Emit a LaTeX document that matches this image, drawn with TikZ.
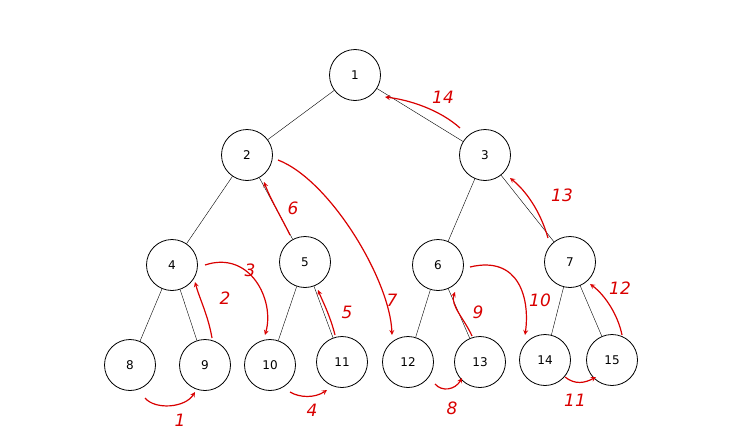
\documentclass[tikz,border=0pt]{standalone}
\usepackage{fontspec}
\setmainfont{DejaVu Sans}
\usepackage{tikz}
\usetikzlibrary{calc}

\begin{document}
\begin{tikzpicture}[x=1pt,y=-1pt,
    vtx/.style={draw,circle,thick,minimum size=51pt,inner sep=0pt,font=\fontsize{12}{12}\selectfont},
    edge/.style={thin},
    walk/.style={red!85!black,line width=1.2pt,->,>=stealth,rounded corners},
    ordnum/.style={red!85!black,font=\fontsize{17}{17}\selectfont\itshape}]
    \useasboundingbox (0,0) rectangle (736,447);

    \foreach \i/\x/\y in {1/355/75, 2/247/155, 3/485/155, 4/172/265, 5/305/262,
        6/438/265, 7/570/262, 8/130/365, 9/205/365, 10/270/365, 11/342/362,
        12/408/362, 13/480/362, 14/545/360, 15/612/360} {
        \node[vtx] (n\i) at (\x,\y) {\i};
    }

    \foreach \a/\b in {1/2, 1/3, 2/4, 2/5, 3/6, 3/7, 4/8, 4/9, 5/10, 5/11,
        6/12, 6/13, 7/14, 7/15} {
        \draw[edge] (n\a) -- (n\b);
    }

    % order of the walk
    \draw[walk] (145,398) .. controls (155,410) and (185,408) .. (195,392);
    \node[ordnum] (s1) at (180,420) {1};
    \draw[walk] (212,338) .. controls (208,315) and (200,300) .. (195,282);
    \node[ordnum] (s2) at (225,298) {2};
    \draw[walk] (205,265) .. controls (250,250) and (275,300) .. (265,335);
    \node[ordnum] (s3) at (250,270) {3};
    \draw[walk] (290,392) .. controls (300,398) and (315,398) .. (327,390);
    \node[ordnum] (s4) at (312,410) {4};
    \draw[walk] (335,335) .. controls (330,315) and (322,300) .. (318,290);
    \node[ordnum] (s5) at (347,312) {5};
    \draw[walk] (290,235) .. controls (280,215) and (270,198) .. (264,182);
    \node[ordnum] (s6) at (293,208) {6};
    \draw[walk] (278,160) .. controls (330,180) and (390,280) .. (392,335);
    \node[ordnum] (s7) at (392,300) {7};
    \draw[walk] (435,384) .. controls (442,392) and (455,390) .. (462,378);
    \node[ordnum] (s8) at (452,408) {8};
    \draw[walk] (472,336) .. controls (465,320) and (450,305) .. (455,292);
    \node[ordnum] (s9) at (478,312) {9};
    \draw[walk] (470,267) .. controls (520,255) and (530,300) .. (525,335);
    \node[ordnum] (s10) at (540,300) {10};
    \draw[walk] (565,377) .. controls (575,385) and (585,383) .. (596,377);
    \node[ordnum] (s11) at (575,400) {11};
    \draw[walk] (622,335) .. controls (618,315) and (605,295) .. (590,284);
    \node[ordnum] (s12) at (620,288) {12};
    \draw[walk] (548,238) .. controls (540,210) and (525,190) .. (510,178);
    \node[ordnum] (s13) at (562,195) {13};
    \draw[walk] (460,128) .. controls (440,110) and (410,100) .. (385,97);
    \node[ordnum] (s14) at (443,97) {14};
\end{tikzpicture}
\end{document}
